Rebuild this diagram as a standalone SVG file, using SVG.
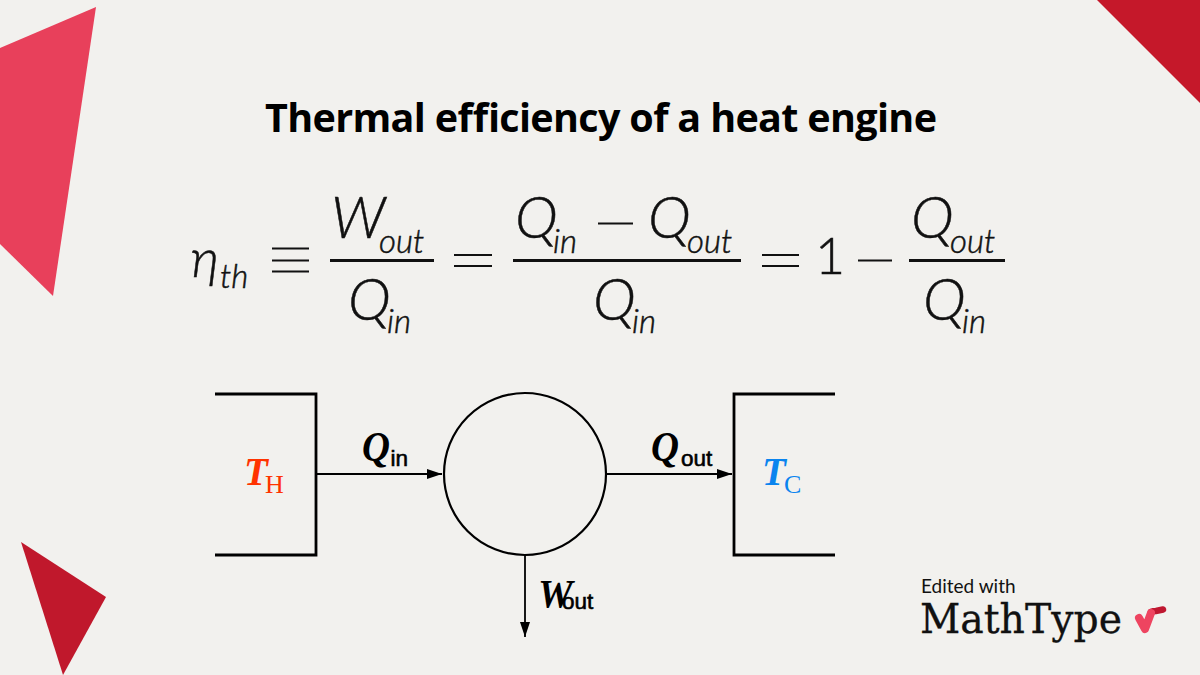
<svg xmlns="http://www.w3.org/2000/svg" width="1200" height="675" viewBox="0 0 1200 675">
<defs>
<marker id="arrow" viewBox="0 0 15 10" refX="15" refY="5" markerWidth="15" markerHeight="10" markerUnits="userSpaceOnUse" orient="auto"><path d="M0 0L15 5L0 10Z" fill="#000"/></marker>
</defs>
<style>
.m{font-family:"Lato","Open Sans",sans-serif;font-style:italic;font-weight:300;fill:#111;stroke:#111;stroke-width:.5}
.big{font-size:58px}
.sub{font-size:33px}
.rule{stroke:#111;stroke-width:3;fill:none}
.thin{stroke:#111;stroke-width:2;fill:none}
.box{stroke:#000;stroke-width:2.800;fill:none}
.conn{stroke:#000;stroke-width:1.800;fill:none;marker-end:url(#arrow)}
.v{font-family:"Liberation Serif",serif;font-style:italic;font-weight:700;font-size:39px}
.q{font-size:43px}
.s{font-family:"Liberation Sans",sans-serif;font-size:22.500px;fill:#000;font-weight:400;stroke:#000;stroke-width:.6}
.r{font-family:"Liberation Serif",serif;font-size:26px}
</style>
<rect width="1200" height="675" fill="#f2f1ee"/>
<g id="decor">
<polygon points="0,48 96,7 53,296 0,244" fill="#e8405b"/>
<polygon points="1097,0 1200,0 1200,103" fill="#c5182a"/>
<polygon points="21,542 106,597 63,675" fill="#c0182c"/>
</g>
<text id="title" x="265" y="132" textLength="672" font-family="'Open Sans',sans-serif" font-weight="700" font-size="39.500" fill="#000">Thermal efficiency of a heat engine</text>
<g id="equation">
<text class="m" x="191" y="277" font-size="53">η</text><text class="m sub" x="220" y="288">th</text>
<path class="thin" d="M272 248.500h37M272 260.500h37M272 271.500h37"/>
<text class="m big" x="331" y="238">W</text><text class="m sub" x="379" y="253">out</text>
<path class="rule" d="M330 260.500H434"/>
<text class="m big" x="348" y="320">Q</text><text class="m sub" x="387" y="333">in</text>
<path class="thin" d="M454 255h38M454 266h38"/>
<text class="m big" x="515" y="238">Q</text><text class="m sub" x="553" y="253">in</text>
<path class="thin" d="M598 223.500h35"/>
<text class="m big" x="648" y="238">Q</text><text class="m sub" x="687" y="253">out</text>
<path class="rule" d="M513 260.500H741"/>
<text class="m big" x="593" y="320">Q</text><text class="m sub" x="632" y="333">in</text>
<path class="thin" d="M762 255h37M762 266h37"/>
<text x="815" y="274" font-family="Lato,sans-serif" font-weight="300" font-size="52" fill="#111" stroke="#111" stroke-width=".5">1</text>
<path class="thin" d="M858 260.500h34"/>
<text class="m big" x="911" y="238">Q</text><text class="m sub" x="950" y="253">out</text>
<path class="rule" d="M909 260.500H1005"/>
<text class="m big" x="923" y="320">Q</text><text class="m sub" x="962" y="333">in</text>
</g>
<g id="hot-reservoir">
<path class="box" d="M215 394H316V555H215"/>
<text x="244" y="485" class="v" fill="#ff3300">T</text><text x="265" y="493" class="r" fill="#ff3300">H</text>
</g>
<g id="engine"><circle cx="525" cy="474" r="81" fill="none" stroke="#000" stroke-width="2.200"/></g>
<g id="cold-reservoir">
<path class="box" d="M835 394H734V555H835"/>
<text x="762" y="485" class="v" fill="#0a84ee">T</text><text x="784" y="493" class="r" fill="#0a84ee">C</text>
</g>
<g id="connectors">
<path class="conn" d="M316 474H442"/>
<path class="conn" d="M606 474H732"/>
<path class="conn" d="M525 555V637"/>
</g>
<g id="labels">
<text x="362" y="461" class="v q" textLength="28" lengthAdjust="spacingAndGlyphs">Q</text><text x="390.500" y="466" class="s">in</text>
<text x="651" y="461" class="v q" textLength="28" lengthAdjust="spacingAndGlyphs">Q</text><text x="681" y="466" class="s">out</text>
<text x="538" y="607" class="v">W</text><text x="562" y="609" class="s">out</text>
</g>
<g id="logo">
<text x="921" y="593" font-family="Lato,sans-serif" font-size="19" fill="#111">Edited with</text>
<text x="920" y="633" font-family="'DejaVu Serif',serif" font-size="41" fill="#111" stroke="#111" stroke-width=".3" textLength="202" lengthAdjust="spacingAndGlyphs">MathType</text>
<path d="M1151 612Q1153 611 1156 611L1163 609.500" fill="none" stroke="#bf1730" stroke-width="6.500" stroke-linecap="round"/>
<path d="M1139 618L1145 629L1151 613" fill="none" stroke="#ee4460" stroke-width="8" stroke-linecap="round" stroke-linejoin="round"/>
</g>
</svg>
